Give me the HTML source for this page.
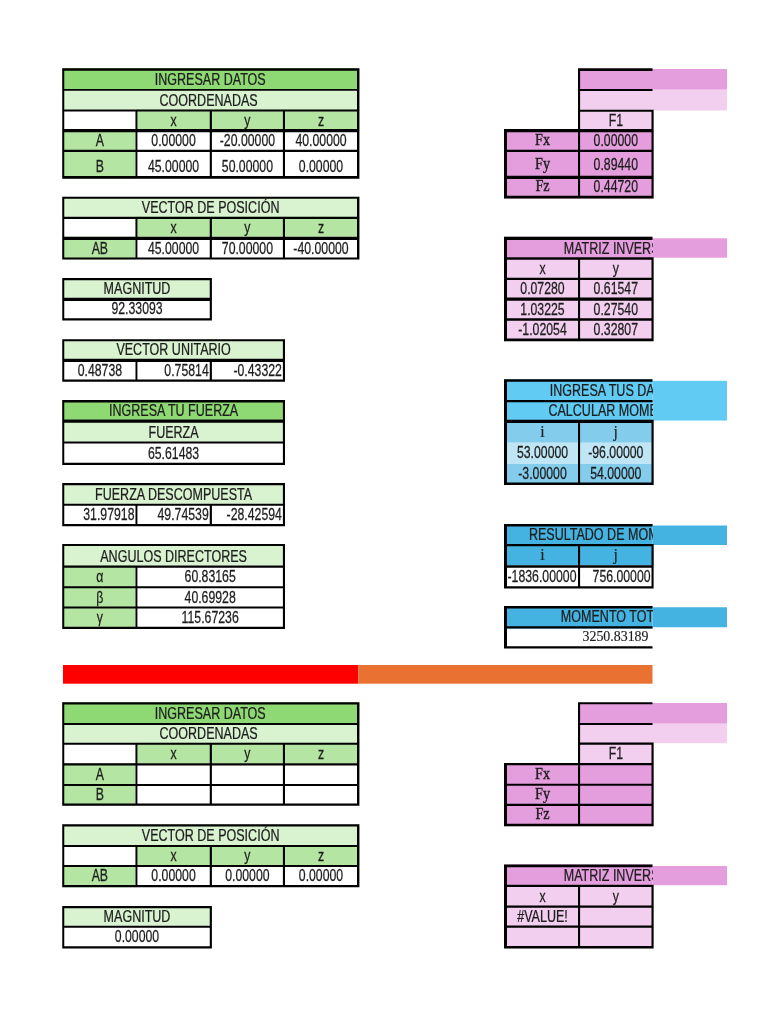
<!DOCTYPE html>
<html lang="es"><head><meta charset="utf-8"><title>Hoja de cálculo</title>
<style>
html,body{margin:0;padding:0;background:#fff;}
body{width:768px;height:1024px;overflow:hidden;}
svg{display:block;}
text{font-family:"Liberation Sans",sans-serif;font-size:15.8px;fill:#1c1c1c;stroke:#1c1c1c;stroke-width:0.25px;}
text.s{font-family:"Liberation Serif",serif;stroke-width:0.15px;}
text.b{font-weight:bold;}
</style></head><body>
<svg width="768" height="1024" viewBox="0 0 768 1024">
<defs><clipPath id="c"><rect x="0" y="0" width="653.0" height="1024"/></clipPath></defs>
<rect x="0" y="0" width="768" height="1024" fill="#fff"/>

<g>
<rect x="62.25" y="68.25" width="297.15" height="22.5" fill="#8ED973"/>
<rect x="62.25" y="89" width="297.15" height="22.5" fill="#D9F2D0"/>
<rect x="62.25" y="109.5" width="75.15" height="22.75" fill="#FFFFFF"/>
<rect x="135.5" y="109.5" width="223.9" height="22.75" fill="#B4E5A2"/>
<rect x="62.25" y="129" width="75.15" height="23" fill="#B4E5A2"/>
<rect x="135.5" y="129" width="223.9" height="23" fill="#FFFFFF"/>
<rect x="62.25" y="149.75" width="75.15" height="29" fill="#B4E5A2"/>
<rect x="135.5" y="149.75" width="223.9" height="29" fill="#FFFFFF"/>
<rect x="62.25" y="196.75" width="297.15" height="22.25" fill="#D9F2D0"/>
<rect x="62.25" y="216.75" width="75.15" height="23.25" fill="#FFFFFF"/>
<rect x="135.5" y="216.75" width="223.9" height="23.25" fill="#B4E5A2"/>
<rect x="62.25" y="236.75" width="75.15" height="22.75" fill="#B4E5A2"/>
<rect x="135.5" y="236.75" width="223.9" height="22.75" fill="#FFFFFF"/>
<rect x="62.25" y="278" width="149.65" height="23" fill="#D9F2D0"/>
<rect x="62.25" y="297.75" width="149.65" height="22.75" fill="#FFFFFF"/>
<rect x="62.25" y="339.25" width="222.75" height="22.75" fill="#D9F2D0"/>
<rect x="62.25" y="358.75" width="222.75" height="23" fill="#FFFFFF"/>
<rect x="62.25" y="400" width="222.75" height="22.75" fill="#8ED973"/>
<rect x="62.25" y="419.5" width="222.75" height="24" fill="#D9F2D0"/>
<rect x="62.25" y="441.5" width="222.75" height="23.5" fill="#FFFFFF"/>
<rect x="62.25" y="483" width="222.75" height="22.75" fill="#D9F2D0"/>
<rect x="62.25" y="503.75" width="222.75" height="22.5" fill="#FFFFFF"/>
<rect x="62.25" y="544" width="222.75" height="23.75" fill="#D9F2D0"/>
<rect x="62.25" y="565.5" width="75.15" height="22.75" fill="#B4E5A2"/>
<rect x="135.5" y="565.5" width="149.5" height="22.75" fill="#FFFFFF"/>
<rect x="62.25" y="586.25" width="75.15" height="22.25" fill="#B4E5A2"/>
<rect x="135.5" y="586.25" width="149.5" height="22.25" fill="#FFFFFF"/>
<rect x="62.25" y="606.5" width="75.15" height="22.5" fill="#B4E5A2"/>
<rect x="135.5" y="606.5" width="149.5" height="22.5" fill="#FFFFFF"/>
<rect x="63" y="665" width="295.3" height="18.7" fill="#FF0000"/>
<rect x="358.3" y="665" width="294.2" height="18.7" fill="#E97132"/>
<rect x="62.25" y="702.25" width="297.15" height="22.75" fill="#8ED973"/>
<rect x="62.25" y="723" width="297.15" height="21.75" fill="#D9F2D0"/>
<rect x="62.25" y="742.75" width="75.15" height="22.65" fill="#FFFFFF"/>
<rect x="135.5" y="742.75" width="223.9" height="22.65" fill="#B4E5A2"/>
<rect x="62.25" y="763.25" width="75.15" height="22.75" fill="#B4E5A2"/>
<rect x="135.5" y="763.25" width="223.9" height="22.75" fill="#FFFFFF"/>
<rect x="62.25" y="784" width="75.15" height="21.75" fill="#B4E5A2"/>
<rect x="135.5" y="784" width="223.9" height="21.75" fill="#FFFFFF"/>
<rect x="62.25" y="824.25" width="297.15" height="22.75" fill="#D9F2D0"/>
<rect x="62.25" y="845" width="75.15" height="22" fill="#FFFFFF"/>
<rect x="135.5" y="845" width="223.9" height="22" fill="#B4E5A2"/>
<rect x="62.25" y="865" width="75.15" height="22.25" fill="#B4E5A2"/>
<rect x="135.5" y="865" width="223.9" height="22.25" fill="#FFFFFF"/>
<rect x="62.25" y="906" width="149.65" height="21.75" fill="#D9F2D0"/>
<rect x="62.25" y="925.75" width="149.65" height="22.75" fill="#FFFFFF"/>
<rect x="578" y="69" width="149" height="20.75" fill="#E59EDD"/>
<rect x="578" y="89.75" width="149" height="20.75" fill="#F2CEEF"/>
<rect x="578" y="109.75" width="75.6" height="22.5" fill="#F2CEEF"/>
<rect x="504" y="129" width="149.6" height="69.5" fill="#E59EDD"/>
<rect x="578" y="703" width="149" height="20.75" fill="#E59EDD"/>
<rect x="578" y="723.75" width="149" height="19.5" fill="#F2CEEF"/>
<rect x="578" y="742.5" width="75.6" height="22.75" fill="#F2CEEF"/>
<rect x="504" y="763" width="149.6" height="63.25" fill="#E59EDD"/>
<rect x="504" y="236.75" width="148.5" height="23" fill="#E59EDD"/>
<rect x="652.5" y="238.25" width="74.5" height="19.5" fill="#E59EDD"/>
<rect x="504" y="257.25" width="149.6" height="84" fill="#F2CEEF"/>
<rect x="504" y="864.5" width="148.5" height="22.5" fill="#E59EDD"/>
<rect x="652.5" y="866" width="74.5" height="19.25" fill="#E59EDD"/>
<rect x="504" y="884.75" width="149.6" height="63.65" fill="#F2CEEF"/>
<rect x="504" y="379.25" width="148.5" height="43.75" fill="#61CBF4"/>
<rect x="652.5" y="380.85" width="74.5" height="39.7" fill="#61CBF4"/>
<rect x="504" y="419.75" width="149.6" height="23" fill="#83CCEB"/>
<rect x="504" y="442.75" width="149.6" height="21.25" fill="#C0E6F5"/>
<rect x="504" y="464" width="149.6" height="21" fill="#83CCEB"/>
<rect x="504" y="524" width="148.5" height="22.25" fill="#44B3E1"/>
<rect x="652.5" y="525.5" width="74.5" height="19.5" fill="#44B3E1"/>
<rect x="504" y="544" width="149.6" height="23.75" fill="#44B3E1"/>
<rect x="504" y="565.25" width="149.6" height="23.25" fill="#FFFFFF"/>
<rect x="504" y="606" width="148.5" height="22.6" fill="#44B3E1"/>
<rect x="652.5" y="607.25" width="74.5" height="20" fill="#44B3E1"/>
</g>
<g fill="#000">
<path d="M62.25 68.25H359.4V70.75H62.25Z M62.25 89H359.4V90.75H62.25Z M62.25 109.5H359.4V111.5H62.25Z M62.25 129H359.4V132.25H62.25Z M62.25 149.75H359.4V152H62.25Z M62.25 176H359.4V178.75H62.25Z M62.25 68.25H64.25V178.75H62.25Z M357 68.25H359.4V178.75H357Z M135.5 110.5H137.4V178.75H135.5Z M209.75 110.5H211.9V178.75H209.75Z M282.9 110.5H285V178.75H282.9Z M62.25 196.75H359.4V198.75H62.25Z M62.25 216.75H359.4V219H62.25Z M62.25 236.75H359.4V240H62.25Z M62.25 257.5H359.4V259.5H62.25Z M62.25 196.75H64.25V259.5H62.25Z M357 196.75H359.4V259.5H357Z M135.5 217.88H137.4V259.5H135.5Z M209.75 217.88H211.9V259.5H209.75Z M282.9 217.88H285V259.5H282.9Z M62.25 278H211.9V280.25H62.25Z M62.25 297.75H211.9V301H62.25Z M62.25 318.25H211.9V320.5H62.25Z M62.25 278H64.25V320.5H62.25Z M209.75 278H211.9V320.5H209.75Z M62.25 339.25H285V341.25H62.25Z M62.25 358.75H285V362H62.25Z M62.25 379.5H285V381.75H62.25Z M62.25 339.25H64.25V381.75H62.25Z M282.9 339.25H285V381.75H282.9Z M135.5 360.38H137.4V381.75H135.5Z M209.75 360.38H211.9V381.75H209.75Z M62.25 400H285V402.5H62.25Z M62.25 419.5H285V422.75H62.25Z M62.25 441.5H285V443.5H62.25Z M62.25 462.75H285V465H62.25Z M62.25 400H64.25V465H62.25Z M282.9 400H285V465H282.9Z M62.25 483H285V485.25H62.25Z M62.25 503.75H285V505.75H62.25Z M62.25 524H285V526.25H62.25Z M62.25 483H64.25V526.25H62.25Z M282.9 483H285V526.25H282.9Z M135.5 504.75H137.4V526.25H135.5Z M209.75 504.75H211.9V526.25H209.75Z M62.25 544H285V546.1H62.25Z M62.25 565.5H285V567.75H62.25Z M62.25 586.25H285V588.25H62.25Z M62.25 606.5H285V608.5H62.25Z M62.25 626.75H285V629H62.25Z M62.25 544H64.25V629H62.25Z M282.9 544H285V629H282.9Z M135.5 565.5H137.4V629H135.5Z M62.25 702.25H359.4V704.5H62.25Z M62.25 723H359.4V725H62.25Z M62.25 742.75H359.4V744.75H62.25Z M62.25 763.25H359.4V765.4H62.25Z M62.25 784H359.4V786H62.25Z M62.25 803.5H359.4V805.75H62.25Z M62.25 702.25H64.25V805.75H62.25Z M357 702.25H359.4V805.75H357Z M135.5 743.75H137.4V805.75H135.5Z M209.75 743.75H211.9V805.75H209.75Z M282.9 743.75H285V805.75H282.9Z M62.25 824.25H359.4V826.5H62.25Z M62.25 845H359.4V847H62.25Z M62.25 865H359.4V867H62.25Z M62.25 885H359.4V887.25H62.25Z M62.25 824.25H64.25V887.25H62.25Z M357 824.25H359.4V887.25H357Z M135.5 846H137.4V887.25H135.5Z M209.75 846H211.9V887.25H209.75Z M282.9 846H285V887.25H282.9Z M62.25 906H211.9V908.25H62.25Z M62.25 925.75H211.9V927.75H62.25Z M62.25 946.25H211.9V948.5H62.25Z M62.25 906H64.25V948.5H62.25Z M209.75 906H211.9V948.5H209.75Z M578 68.25H652.5V71H578Z M578 89H652.5V91H578Z M578 109.75H652.5V111.75H578Z M504 129H653.6V132.25H504Z M504 149.75H653.6V152H504Z M504 175.75H653.6V179H504Z M504 195.75H653.6V198.5H504Z M504 129H507V198.5H504Z M578 68.25H580.1V198.5H578Z M651.5 109.75H653.6V198.5H651.5Z M578 702.25H652.5V704.25H578Z M578 723H652.5V725H578Z M578 742.5H652.5V744.75H578Z M504 763H653.6V765.25H504Z M504 783.75H653.6V785.75H504Z M504 803.75H653.6V806H504Z M504 823.75H653.6V826.25H504Z M504 763H507V826.25H504Z M578 702.25H580.1V826.25H578Z M651.5 742.5H653.6V826.25H651.5Z M504 236.75H652.5V240H504Z M504 257.25H653.6V259.75H504Z M504 277.75H653.6V280H504Z M504 297.5H653.6V300.75H504Z M504 318.25H653.6V320.75H504Z M504 338.5H653.6V341.25H504Z M504 236.75H507V341.25H504Z M578 257.25H580.1V341.25H578Z M651.5 257.25H653.6V341.25H651.5Z M504 864.5H652.5V867.25H504Z M504 884.75H653.6V887H504Z M504 905.5H653.6V907.75H504Z M504 925.5H653.6V927.75H504Z M504 946H653.6V948.4H504Z M504 864.5H507V948.4H504Z M578 884.75H580.1V948.4H578Z M651.5 884.75H653.6V948.4H651.5Z M504 379.25H652.5V381.75H504Z M504 400H652.5V402.25H504Z M504 419.75H652.5V423H504Z M504 419.75H653.6V423H504Z M504 482.5H653.6V485H504Z M504 379.25H507V485H504Z M578 419.75H580.1V485H578Z M651.5 419.75H653.6V485H651.5Z M504 524H652.5V526.5H504Z M504 544H653.6V546.25H504Z M504 565.25H653.6V567.75H504Z M504 586.25H653.6V588.5H504Z M504 524H507V588.5H504Z M578 544H580.1V588.5H578Z M651.5 544H653.6V588.5H651.5Z M504 606H652.5V608.5H504Z M504 626.25H652.5V628.6H504Z M504 646.25H652.5V648.5H504Z M504 606H507V648.5H504Z"/>
</g>
<g>
<text text-anchor="middle" transform="translate(210.22 84.88) scale(0.7936 1)">INGRESAR DATOS</text>
<text text-anchor="middle" transform="translate(208.62 105.5) scale(0.7936 1)">COORDENADAS</text>
<text text-anchor="middle" transform="translate(173.57 125.62) scale(0.778 1)">x</text>
<text text-anchor="middle" transform="translate(247.4 125.62) scale(0.778 1)">y</text>
<text text-anchor="middle" transform="translate(321 125.62) scale(0.778 1)">z</text>
<text text-anchor="middle" transform="translate(99.88 145.88) scale(0.778 1)">A</text>
<text text-anchor="middle" transform="translate(173.57 145.88) scale(0.778 1)">0.00000</text>
<text text-anchor="middle" transform="translate(247.4 145.88) scale(0.778 1)">-20.00000</text>
<text text-anchor="middle" transform="translate(321 145.88) scale(0.778 1)">40.00000</text>
<text text-anchor="middle" transform="translate(99.88 172.38) scale(0.778 1)">B</text>
<text text-anchor="middle" transform="translate(173.57 172.38) scale(0.778 1)">45.00000</text>
<text text-anchor="middle" transform="translate(247.4 172.38) scale(0.778 1)">50.00000</text>
<text text-anchor="middle" transform="translate(321 172.38) scale(0.778 1)">0.00000</text>
<text text-anchor="middle" transform="translate(210.62 212.88) scale(0.7936 1)">VECTOR DE POSICIÓN</text>
<text text-anchor="middle" transform="translate(173.57 233.38) scale(0.778 1)">x</text>
<text text-anchor="middle" transform="translate(247.4 233.38) scale(0.778 1)">y</text>
<text text-anchor="middle" transform="translate(321 233.38) scale(0.778 1)">z</text>
<text text-anchor="middle" transform="translate(99.88 253.5) scale(0.778 1)">AB</text>
<text text-anchor="middle" transform="translate(173.57 253.5) scale(0.778 1)">45.00000</text>
<text text-anchor="middle" transform="translate(247.4 253.5) scale(0.778 1)">70.00000</text>
<text text-anchor="middle" transform="translate(321 253.5) scale(0.778 1)">-40.00000</text>
<text text-anchor="middle" transform="translate(137 294.38) scale(0.7936 1)">MAGNITUD</text>
<text text-anchor="middle" transform="translate(137 314.38) scale(0.778 1)">92.33093</text>
<text text-anchor="middle" transform="translate(173.57 355.38) scale(0.7936 1)">VECTOR UNITARIO</text>
<text text-anchor="middle" transform="translate(99.88 375.62) scale(0.778 1)">0.48738</text>
<text text-anchor="end" transform="translate(208.75 375.62) scale(0.778 1)">0.75814</text>
<text text-anchor="end" transform="translate(281.9 375.62) scale(0.778 1)">-0.43322</text>
<text text-anchor="middle" transform="translate(173.57 416.12) scale(0.7936 1)">INGRESA TU FUERZA</text>
<text text-anchor="middle" transform="translate(173.57 437.5) scale(0.7936 1)">FUERZA</text>
<text text-anchor="middle" transform="translate(173.57 458.88) scale(0.778 1)">65.61483</text>
<text text-anchor="middle" transform="translate(173.57 499.75) scale(0.7936 1)">FUERZA DESCOMPUESTA</text>
<text text-anchor="end" transform="translate(134.5 520.12) scale(0.778 1)">31.97918</text>
<text text-anchor="end" transform="translate(208.75 520.12) scale(0.778 1)">49.74539</text>
<text text-anchor="end" transform="translate(281.9 520.12) scale(0.778 1)">-28.42594</text>
<text text-anchor="middle" transform="translate(173.57 561.62) scale(0.7936 1)">ANGULOS DIRECTORES</text>
<text text-anchor="middle" transform="translate(99.88 582.25) scale(0.778 1)">α</text>
<text text-anchor="middle" transform="translate(210.15 582.25) scale(0.778 1)">60.83165</text>
<text text-anchor="middle" transform="translate(99.88 602.5) scale(0.778 1)">β</text>
<text text-anchor="middle" transform="translate(210.15 602.5) scale(0.778 1)">40.69928</text>
<text text-anchor="middle" transform="translate(99.88 622.88) scale(0.778 1)">γ</text>
<text text-anchor="middle" transform="translate(210.15 622.88) scale(0.778 1)">115.67236</text>
<text text-anchor="middle" transform="translate(210.22 719) scale(0.7936 1)">INGRESAR DATOS</text>
<text text-anchor="middle" transform="translate(208.62 738.75) scale(0.7936 1)">COORDENADAS</text>
<text text-anchor="middle" transform="translate(173.57 759.33) scale(0.778 1)">x</text>
<text text-anchor="middle" transform="translate(247.4 759.33) scale(0.778 1)">y</text>
<text text-anchor="middle" transform="translate(321 759.33) scale(0.778 1)">z</text>
<text text-anchor="middle" transform="translate(99.88 780) scale(0.778 1)">A</text>
<text text-anchor="middle" transform="translate(99.88 799.62) scale(0.778 1)">B</text>
<text text-anchor="middle" transform="translate(210.62 841) scale(0.7936 1)">VECTOR DE POSICIÓN</text>
<text text-anchor="middle" transform="translate(173.57 861) scale(0.778 1)">x</text>
<text text-anchor="middle" transform="translate(247.4 861) scale(0.778 1)">y</text>
<text text-anchor="middle" transform="translate(321 861) scale(0.778 1)">z</text>
<text text-anchor="middle" transform="translate(99.88 881.12) scale(0.778 1)">AB</text>
<text text-anchor="middle" transform="translate(173.57 881.12) scale(0.778 1)">0.00000</text>
<text text-anchor="middle" transform="translate(247.4 881.12) scale(0.778 1)">0.00000</text>
<text text-anchor="middle" transform="translate(321 881.12) scale(0.778 1)">0.00000</text>
<text text-anchor="middle" transform="translate(137 921.75) scale(0.7936 1)">MAGNITUD</text>
<text text-anchor="middle" transform="translate(137 942.38) scale(0.778 1)">0.00000</text>
<text text-anchor="middle" transform="translate(615.8 125.62) scale(0.778 1)">F1</text>
<text class="s" style="stroke-width:0.4px" text-anchor="middle" transform="translate(542.5 144.68) scale(0.9 1)">Fx</text>
<text text-anchor="middle" transform="translate(615.8 145.88) scale(0.778 1)">0.00000</text>
<text class="s" style="stroke-width:0.4px" text-anchor="middle" transform="translate(542.5 168.78) scale(0.9 1)">Fy</text>
<text text-anchor="middle" transform="translate(615.8 169.97) scale(0.778 1)">0.89440</text>
<text class="s" style="stroke-width:0.4px" text-anchor="middle" transform="translate(542.5 190.93) scale(0.9 1)">Fz</text>
<text text-anchor="middle" transform="translate(615.8 192.12) scale(0.778 1)">0.44720</text>
<text text-anchor="middle" transform="translate(615.8 759.12) scale(0.778 1)">F1</text>
<text class="s" style="stroke-width:0.4px" text-anchor="middle" transform="translate(542.5 778.55) scale(0.9 1)">Fx</text>
<text class="s" style="stroke-width:0.4px" text-anchor="middle" transform="translate(542.5 798.67) scale(0.9 1)">Fy</text>
<text class="s" style="stroke-width:0.4px" text-anchor="middle" transform="translate(542.5 818.8) scale(0.9 1)">Fz</text>
<g clip-path="url(#c)"><text text-anchor="middle" transform="translate(615.8 253.5) scale(0.7936 1)">MATRIZ INVERSA</text></g>
<text text-anchor="middle" transform="translate(542.5 273.88) scale(0.778 1)">x</text>
<text text-anchor="middle" transform="translate(615.8 273.88) scale(0.778 1)">y</text>
<text text-anchor="middle" transform="translate(542.5 294.12) scale(0.778 1)">0.07280</text>
<text text-anchor="middle" transform="translate(615.8 294.12) scale(0.778 1)">0.61547</text>
<text text-anchor="middle" transform="translate(542.5 314.5) scale(0.778 1)">1.03225</text>
<text text-anchor="middle" transform="translate(615.8 314.5) scale(0.778 1)">0.27540</text>
<text text-anchor="middle" transform="translate(542.5 334.88) scale(0.778 1)">-1.02054</text>
<text text-anchor="middle" transform="translate(615.8 334.88) scale(0.778 1)">0.32807</text>
<g clip-path="url(#c)"><text text-anchor="middle" transform="translate(615.8 880.88) scale(0.7936 1)">MATRIZ INVERSA</text></g>
<text text-anchor="middle" transform="translate(542.5 901.62) scale(0.778 1)">x</text>
<text text-anchor="middle" transform="translate(615.8 901.62) scale(0.778 1)">y</text>
<text text-anchor="middle" transform="translate(542.5 921.62) scale(0.7936 1)">#VALUE!</text>
<g clip-path="url(#c)"><text text-anchor="middle" transform="translate(614.5 396.12) scale(0.7936 1)">INGRESA TUS DATOS</text></g>
<g clip-path="url(#c)"><text text-anchor="middle" transform="translate(616.2 416.38) scale(0.7936 1)">CALCULAR MOMENTO</text></g>
<text class="s" text-anchor="middle" transform="translate(542.5 436.5) scale(1 1)">i</text>
<text class="s" text-anchor="middle" transform="translate(615.8 436.5) scale(1 1)">j</text>
<text text-anchor="middle" transform="translate(542.5 458.3) scale(0.778 1)">53.00000</text>
<text text-anchor="middle" transform="translate(615.8 458.3) scale(0.778 1)">-96.00000</text>
<text text-anchor="middle" transform="translate(542.5 479.15) scale(0.778 1)">-3.00000</text>
<text text-anchor="middle" transform="translate(615.8 479.15) scale(0.778 1)">54.00000</text>
<g clip-path="url(#c)"><text text-anchor="middle" transform="translate(615.2 540.12) scale(0.7936 1)">RESULTADO DE MOMENTOS</text></g>
<text class="s" text-anchor="middle" transform="translate(542.5 559.7) scale(1 1)">i</text>
<text class="s" text-anchor="middle" transform="translate(615.8 559.7) scale(1 1)">j</text>
<text text-anchor="end" transform="translate(576.5 582.38) scale(0.778 1)">-1836.00000</text>
<text text-anchor="end" transform="translate(650.6 582.38) scale(0.778 1)">756.00000</text>
<g clip-path="url(#c)"><text text-anchor="middle" transform="translate(614.7 622.42) scale(0.7936 1)">MOMENTO TOTAL</text></g>
<text class="s" style="font-size:13.9px" text-anchor="end" transform="translate(648.5 641.3) scale(1 1)">3250.83189</text>
</g>
</svg>
</body></html>
